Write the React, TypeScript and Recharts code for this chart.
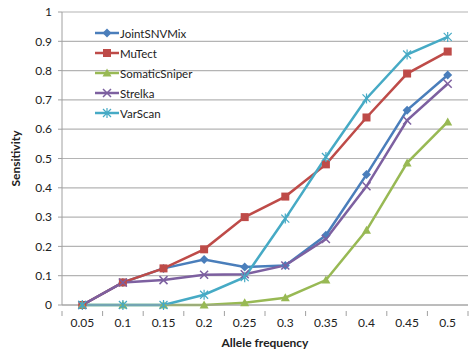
import React from 'react';
import { LineChart, Line, XAxis, YAxis, CartesianGrid } from 'recharts';

const frequencies = ['0.05', '0.1', '0.15', '0.2', '0.25', '0.3', '0.35', '0.4', '0.45', '0.5'];
const jointSNVMix = [0, 0.077, 0.125, 0.155, 0.13, 0.135, 0.238, 0.445, 0.665, 0.785];
const muTect = [0, 0.077, 0.125, 0.19, 0.3, 0.37, 0.48, 0.64, 0.79, 0.865];
const somaticSniper = [0, 0, 0, 0, 0.008, 0.025, 0.085, 0.255, 0.485, 0.625];
const strelka = [0, 0.077, 0.085, 0.103, 0.105, 0.135, 0.225, 0.405, 0.63, 0.755];
const varScan = [0, 0, 0, 0.035, 0.095, 0.295, 0.505, 0.705, 0.855, 0.915];
const yTicks = [0, 0.1, 0.2, 0.3, 0.4, 0.5, 0.6, 0.7, 0.8, 0.9, 1];

const data = frequencies.map((f, i) => ({
  freq: f,
  JointSNVMix: jointSNVMix[i],
  MuTect: muTect[i],
  SomaticSniper: somaticSniper[i],
  Strelka: strelka[i],
  VarScan: varScan[i],
}));

type Shape = 'diamond' | 'square' | 'triangle' | 'cross' | 'star';

const marker = (shape: Shape, color: string) => (props: any) => {
  const { cx, cy, index } = props;
  if (cx == null || cy == null) return <g key={index} />;
  switch (shape) {
    case 'diamond':
      return <path key={index} d={`M${cx},${cy - 4.5}L${cx + 4.5},${cy}L${cx},${cy + 4.5}L${cx - 4.5},${cy}Z`} fill={color} />;
    case 'square':
      return <rect key={index} x={cx - 4} y={cy - 4} width={8} height={8} fill={color} />;
    case 'triangle':
      return <path key={index} d={`M${cx},${cy - 4.5}L${cx + 4.5},${cy + 3.5}L${cx - 4.5},${cy + 3.5}Z`} fill={color} />;
    case 'cross':
      return (
        <path key={index} d={`M${cx - 4},${cy - 4}L${cx + 4},${cy + 4}M${cx + 4},${cy - 4}L${cx - 4},${cy + 4}`} stroke={color} strokeWidth={1.5} />
      );
    default:
      return (
        <path
          key={index}
          d={`M${cx - 4},${cy - 4}L${cx + 4},${cy + 4}M${cx + 4},${cy - 4}L${cx - 4},${cy + 4}M${cx},${cy - 5}L${cx},${cy + 5}`}
          stroke={color}
          strokeWidth={1.2}
        />
      );
  }
};

const seriesList: { key: string; color: string; shape: Shape }[] = [
  { key: 'JointSNVMix', color: '#4A7EBB', shape: 'diamond' },
  { key: 'MuTect', color: '#BE4B48', shape: 'square' },
  { key: 'SomaticSniper', color: '#98B954', shape: 'triangle' },
  { key: 'Strelka', color: '#7D60A0', shape: 'cross' },
  { key: 'VarScan', color: '#46AAC5', shape: 'star' },
];

const fontFamily = 'Lato, "Open Sans", sans-serif';
const axisFont = { fontFamily, fontSize: 12, fill: '#222' };

// category ticks: label in the middle, tick marks on the band edges (Excel style)
const XTick = (props: any) => {
  const { x, y, payload, index } = props;
  const off = payload && payload.offset ? payload.offset : 20.3;
  const top = y - 8;
  return (
    <g>
      <line x1={x - off} y1={top} x2={x - off} y2={top + 5} stroke="#A0A0A0" />
      {index === frequencies.length - 1 && <line x1={x + off} y1={top} x2={x + off} y2={top + 5} stroke="#A0A0A0" />}
      <text x={x} y={y} dy={8} textAnchor="middle" {...axisFont}>
        {payload.value}
      </text>
    </g>
  );
};

export default function App() {
  return (
    <div style={{ position: 'absolute', left: 0, top: 0, width: 474, height: 357, background: '#fff' }}>
      <LineChart width={474} height={357} data={data} margin={{ top: 12, right: 6, bottom: 0, left: 0 }}>
        <CartesianGrid horizontal vertical={false} stroke="#B4B4B4" strokeWidth={1.2} />
        <XAxis
          dataKey="freq"
          scale="band"
          tick={<XTick />}
          tickLine={false}
          axisLine={{ stroke: '#A0A0A0' }}
          tickMargin={8}
          height={52}
          interval={0}
          label={{ value: 'Allele frequency', position: 'insideBottom', offset: 10, style: { ...axisFont, fontWeight: 700 } }}
        />
        <YAxis
          domain={[0, 1]}
          ticks={yTicks}
          tick={axisFont}
          tickLine={{ stroke: '#A0A0A0' }}
          tickSize={4}
          axisLine={{ stroke: '#A0A0A0' }}
          width={62}
          tickMargin={6}
          label={{ value: 'Sensitivity', angle: -90, position: 'insideLeft', offset: 16, style: { ...axisFont, fontWeight: 700, textAnchor: 'middle' } }}
        />
        {seriesList.map((s) => (
          <Line
            key={s.key}
            dataKey={s.key}
            stroke={s.color}
            strokeWidth={2.5}
            dot={marker(s.shape, s.color)}
            activeDot={false}
            isAnimationActive={false}
          />
        ))}
      </LineChart>
      <div style={{ position: 'absolute', left: 95, top: 23, fontFamily, fontSize: 11.5, color: '#222' }}>
        {seriesList.map((s) => (
          <div key={s.key} style={{ display: 'flex', alignItems: 'center', height: 20 }}>
            <svg width={24} height={12}>
              <line x1={0} y1={6} x2={24} y2={6} stroke={s.color} strokeWidth={2.5} />
              {marker(s.shape, s.color)({ cx: 12, cy: 6, index: 0 })}
            </svg>
            <span style={{ marginLeft: 1 }}>{s.key}</span>
          </div>
        ))}
      </div>
    </div>
  );
}
